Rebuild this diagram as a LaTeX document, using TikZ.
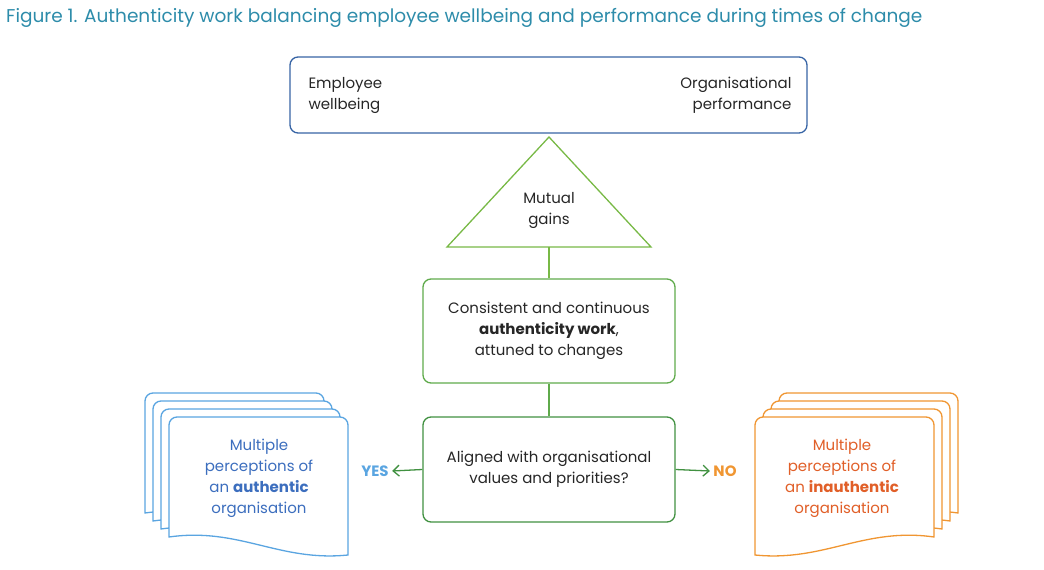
\documentclass[tikz,border=0pt]{standalone}
\usepackage{fontspec}
\setmainfont{Poppins}
\usetikzlibrary{arrows.meta}
\definecolor{tealc}{RGB}{45,140,170}
\definecolor{dblue}{RGB}{55,100,165}
\definecolor{lgreen}{RGB}{120,185,70}
\definecolor{mgreen}{RGB}{95,170,75}
\definecolor{dgreen}{RGB}{65,145,65}
\definecolor{lblue}{RGB}{90,165,225}
\definecolor{tblue}{RGB}{60,110,190}
\definecolor{orng}{RGB}{240,150,50}
\definecolor{rorng}{RGB}{225,95,40}
\tikzset{
 txt/.style={font=\fontsize{15}{21}\selectfont,align=center,text=black!85},
 box/.style={rounded corners=8pt,line width=1.3pt},
 conn/.style={line width=1.3pt},
 doc/.style={line width=1.3pt,fill=white}
}
\newcommand{\docL}[3]{% left x, top y, color
 \draw[doc,draw=#3] (#1,-#2-120) [rounded corners=8pt]-- (#1,-#2) -- (#1+179,-#2) [sharp corners]-- (#1+179,-#2-138) .. controls (#1+110,-#2-145) and (#1+70,-#2-110) .. (#1,-#2-120) -- cycle;}
\newcommand{\docR}[3]{% right x, top y, color
 \draw[doc,draw=#3] (#1,-#2-120) [rounded corners=8pt]-- (#1,-#2) -- (#1-179,-#2) [sharp corners]-- (#1-179,-#2-138) .. controls (#1-110,-#2-145) and (#1-70,-#2-110) .. (#1,-#2-120) -- cycle;}
\begin{document}
\begin{tikzpicture}[x=1pt,y=1pt]
\useasboundingbox (0,0) rectangle (1044,-570);
\node[anchor=west,text=tealc,font=\fontsize{18.5}{22}\selectfont,inner sep=0] (title) at (6,-18) {Figure 1. Authenticity work balancing employee wellbeing and performance during times of change};
\draw[box,draw=dblue] (290,-57) rectangle (807,-133);
\node[txt,align=left,anchor=west] (ew) at (305,-95) {Employee\\wellbeing};
\node[txt,align=right,anchor=east] (op) at (795,-95) {Organisational\\performance};
\draw[conn,draw=lgreen,line join=miter] (549,-137) -- (651,-247) -- (447,-247) -- cycle;
\node[txt] (mg) at (549,-210) {Mutual\\gains};
\coordinate (tb) at (549,-247);
\node[box,draw=mgreen,minimum width=252pt,minimum height=104pt,txt] (aw) at (549,-331) {Consistent and continuous\\\textbf{authenticity work},\\attuned to changes};
\node[box,draw=dgreen,minimum width=252pt,minimum height=105pt,txt] (al) at (549,-469.5) {Aligned with organisational\\values and priorities?};
\draw[conn,draw=lgreen] (tb) -- (aw.north);
\draw[conn,draw=mgreen] (aw.south) -- (al.south|-al.north);
\node[font=\fontsize{15}{18}\selectfont\bfseries,text=lblue] (yes) at (375,-471) {YES};
\node[font=\fontsize{15}{18}\selectfont\bfseries,text=orng] (no) at (725,-471) {NO};
\draw[conn,draw=dgreen,-{Straight Barb[length=6pt,width=11pt]}] (al.west) -- (yes.east);
\draw[conn,draw=dgreen,-{Straight Barb[length=6pt,width=11pt]}] (al.east) -- (no.west);
\docL{145}{393}{lblue}\docL{153}{401}{lblue}\docL{161}{409}{lblue}\docL{169}{417}{lblue}
\node[txt,text=tblue] (ad) at (259,-478) {Multiple\\perceptions of\\an \textbf{authentic}\\organisation};
\docR{958}{393}{orng}\docR{950}{401}{orng}\docR{942}{409}{orng}\docR{934}{417}{orng}
\node[txt,text=rorng] (id) at (842,-478) {Multiple\\perceptions of\\an \textbf{inauthentic}\\organisation};
\end{tikzpicture}
\end{document}
